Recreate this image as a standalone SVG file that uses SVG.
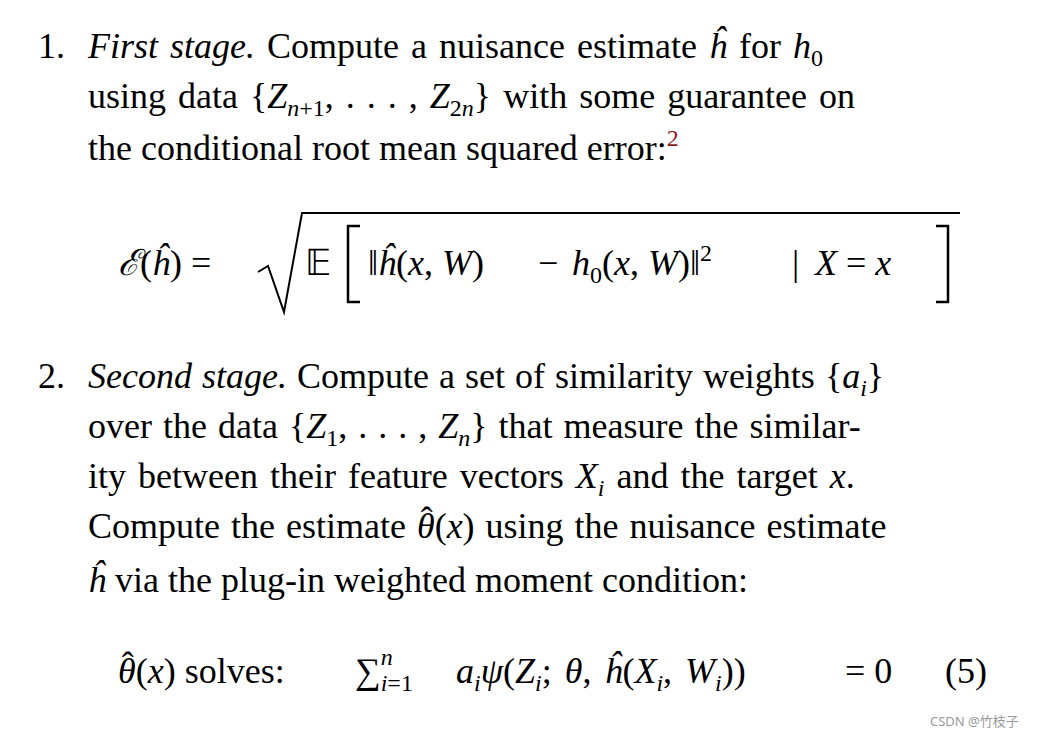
<svg xmlns="http://www.w3.org/2000/svg" width="1045" height="738" viewBox="0 0 1045 738">
<style>
text{font-family:"Liberation Serif",serif;font-size:36px;fill:#000}
.i{font-style:italic}
.s{font-size:24px}
.w{font-family:"Noto Sans","Noto Sans CJK SC",sans-serif;font-size:13px;fill:#999}
</style>
<rect width="1045" height="738" fill="#fff"/>
<text x="38" y="58">1.</text>
<text x="88" y="58" word-spacing="3"><tspan class="i">First stage.</tspan>  Compute a nuisance estimate <tspan class="i">ĥ</tspan> for <tspan class="i">h</tspan><tspan class="s" dy="8">0</tspan></text>
<text x="88" y="108" word-spacing="3">using data {<tspan class="i">Z</tspan><tspan class="s i" dy="8">n</tspan><tspan class="s">+1</tspan><tspan dy="-8">, . . . , </tspan><tspan class="i">Z</tspan><tspan class="s" dy="8">2</tspan><tspan class="s i">n</tspan><tspan dy="-8">} with some guarantee on</tspan></text>
<text x="88" y="160">the conditional root mean squared error:<tspan class="s" dy="-14" fill="#8b1a1a">2</tspan></text>
<text x="118" y="275"><tspan class="i" font-family="DejaVu Serif">ℰ</tspan>(<tspan class="i">ĥ</tspan>) =</text>
<path d="M258 272 L268 266 L284 312 L302 213 L960 213" fill="none" stroke="#000" stroke-width="2"/>
<text x="305" y="275" font-family="DejaVu Serif">𝔼</text>
<path d="M360 226 H348 V302 H360" fill="none" stroke="#000" stroke-width="2.5"/>
<text x="368" y="275">‖<tspan class="i">ĥ</tspan>(<tspan class="i">x</tspan>, <tspan class="i">W</tspan>)</text>
<text x="538" y="275">−</text>
<text x="572" y="275"><tspan class="i">h</tspan><tspan class="s" dy="8">0</tspan><tspan dy="-8">(</tspan><tspan class="i">x</tspan>, <tspan class="i">W</tspan>)‖<tspan class="s" dy="-14">2</tspan></text>
<text x="792" y="275">|</text>
<text x="815" y="275"><tspan class="i">X</tspan> = <tspan class="i">x</tspan></text>
<path d="M936 226 H948 V302 H936" fill="none" stroke="#000" stroke-width="2.5"/>
<text x="38" y="388">2.</text>
<text x="88" y="388" word-spacing="1"><tspan class="i">Second stage.</tspan> Compute a set of similarity weights {<tspan class="i">a</tspan><tspan class="s i" dy="8">i</tspan><tspan dy="-8">}</tspan></text>
<text x="88" y="438" word-spacing="2">over the data {<tspan class="i">Z</tspan><tspan class="s" dy="8">1</tspan><tspan dy="-8">, . . . , </tspan><tspan class="i">Z</tspan><tspan class="s i" dy="8">n</tspan><tspan dy="-8">} that measure the similar-</tspan></text>
<text x="88" y="488" word-spacing="3">ity between their feature vectors <tspan class="i">X</tspan><tspan class="s i" dy="8">i</tspan><tspan dy="-8"> and the target </tspan><tspan class="i">x</tspan>.</text>
<text x="88" y="538" word-spacing="2">Compute the estimate <tspan class="i">θ</tspan><tspan dx="-14" dy="-6">ˆ</tspan><tspan dx="2" dy="6">(</tspan><tspan class="i">x</tspan>) using the nuisance estimate</text>
<text x="88" y="592"><tspan class="i">ĥ</tspan> via the plug-in weighted moment condition:</text>
<text x="118" y="683"><tspan class="i">θ</tspan><tspan dx="-14" dy="-6">ˆ</tspan><tspan dx="2" dy="6">(</tspan><tspan class="i">x</tspan>) solves:</text>
<text x="355" y="683">∑<tspan class="s i" dy="-18">n</tspan><tspan class="s i" dx="-12" dy="26">i</tspan><tspan class="s">=1</tspan></text>
<text x="456" y="683" word-spacing="4"><tspan class="i">a</tspan><tspan class="s i" dy="8">i</tspan><tspan class="i" dy="-8">ψ</tspan>(<tspan class="i">Z</tspan><tspan class="s i" dy="8">i</tspan><tspan dy="-8">; </tspan><tspan class="i">θ</tspan>, <tspan class="i">ĥ</tspan>(<tspan class="i">X</tspan><tspan class="s i" dy="8">i</tspan><tspan dy="-8">, </tspan><tspan class="i">W</tspan><tspan class="s i" dy="8">i</tspan><tspan dy="-8">))</tspan></text>
<text x="845" y="683">= 0</text>
<text x="945" y="683">(5)</text>
<text class="w" x="930" y="726">CSDN @竹枝子</text>
</svg>
